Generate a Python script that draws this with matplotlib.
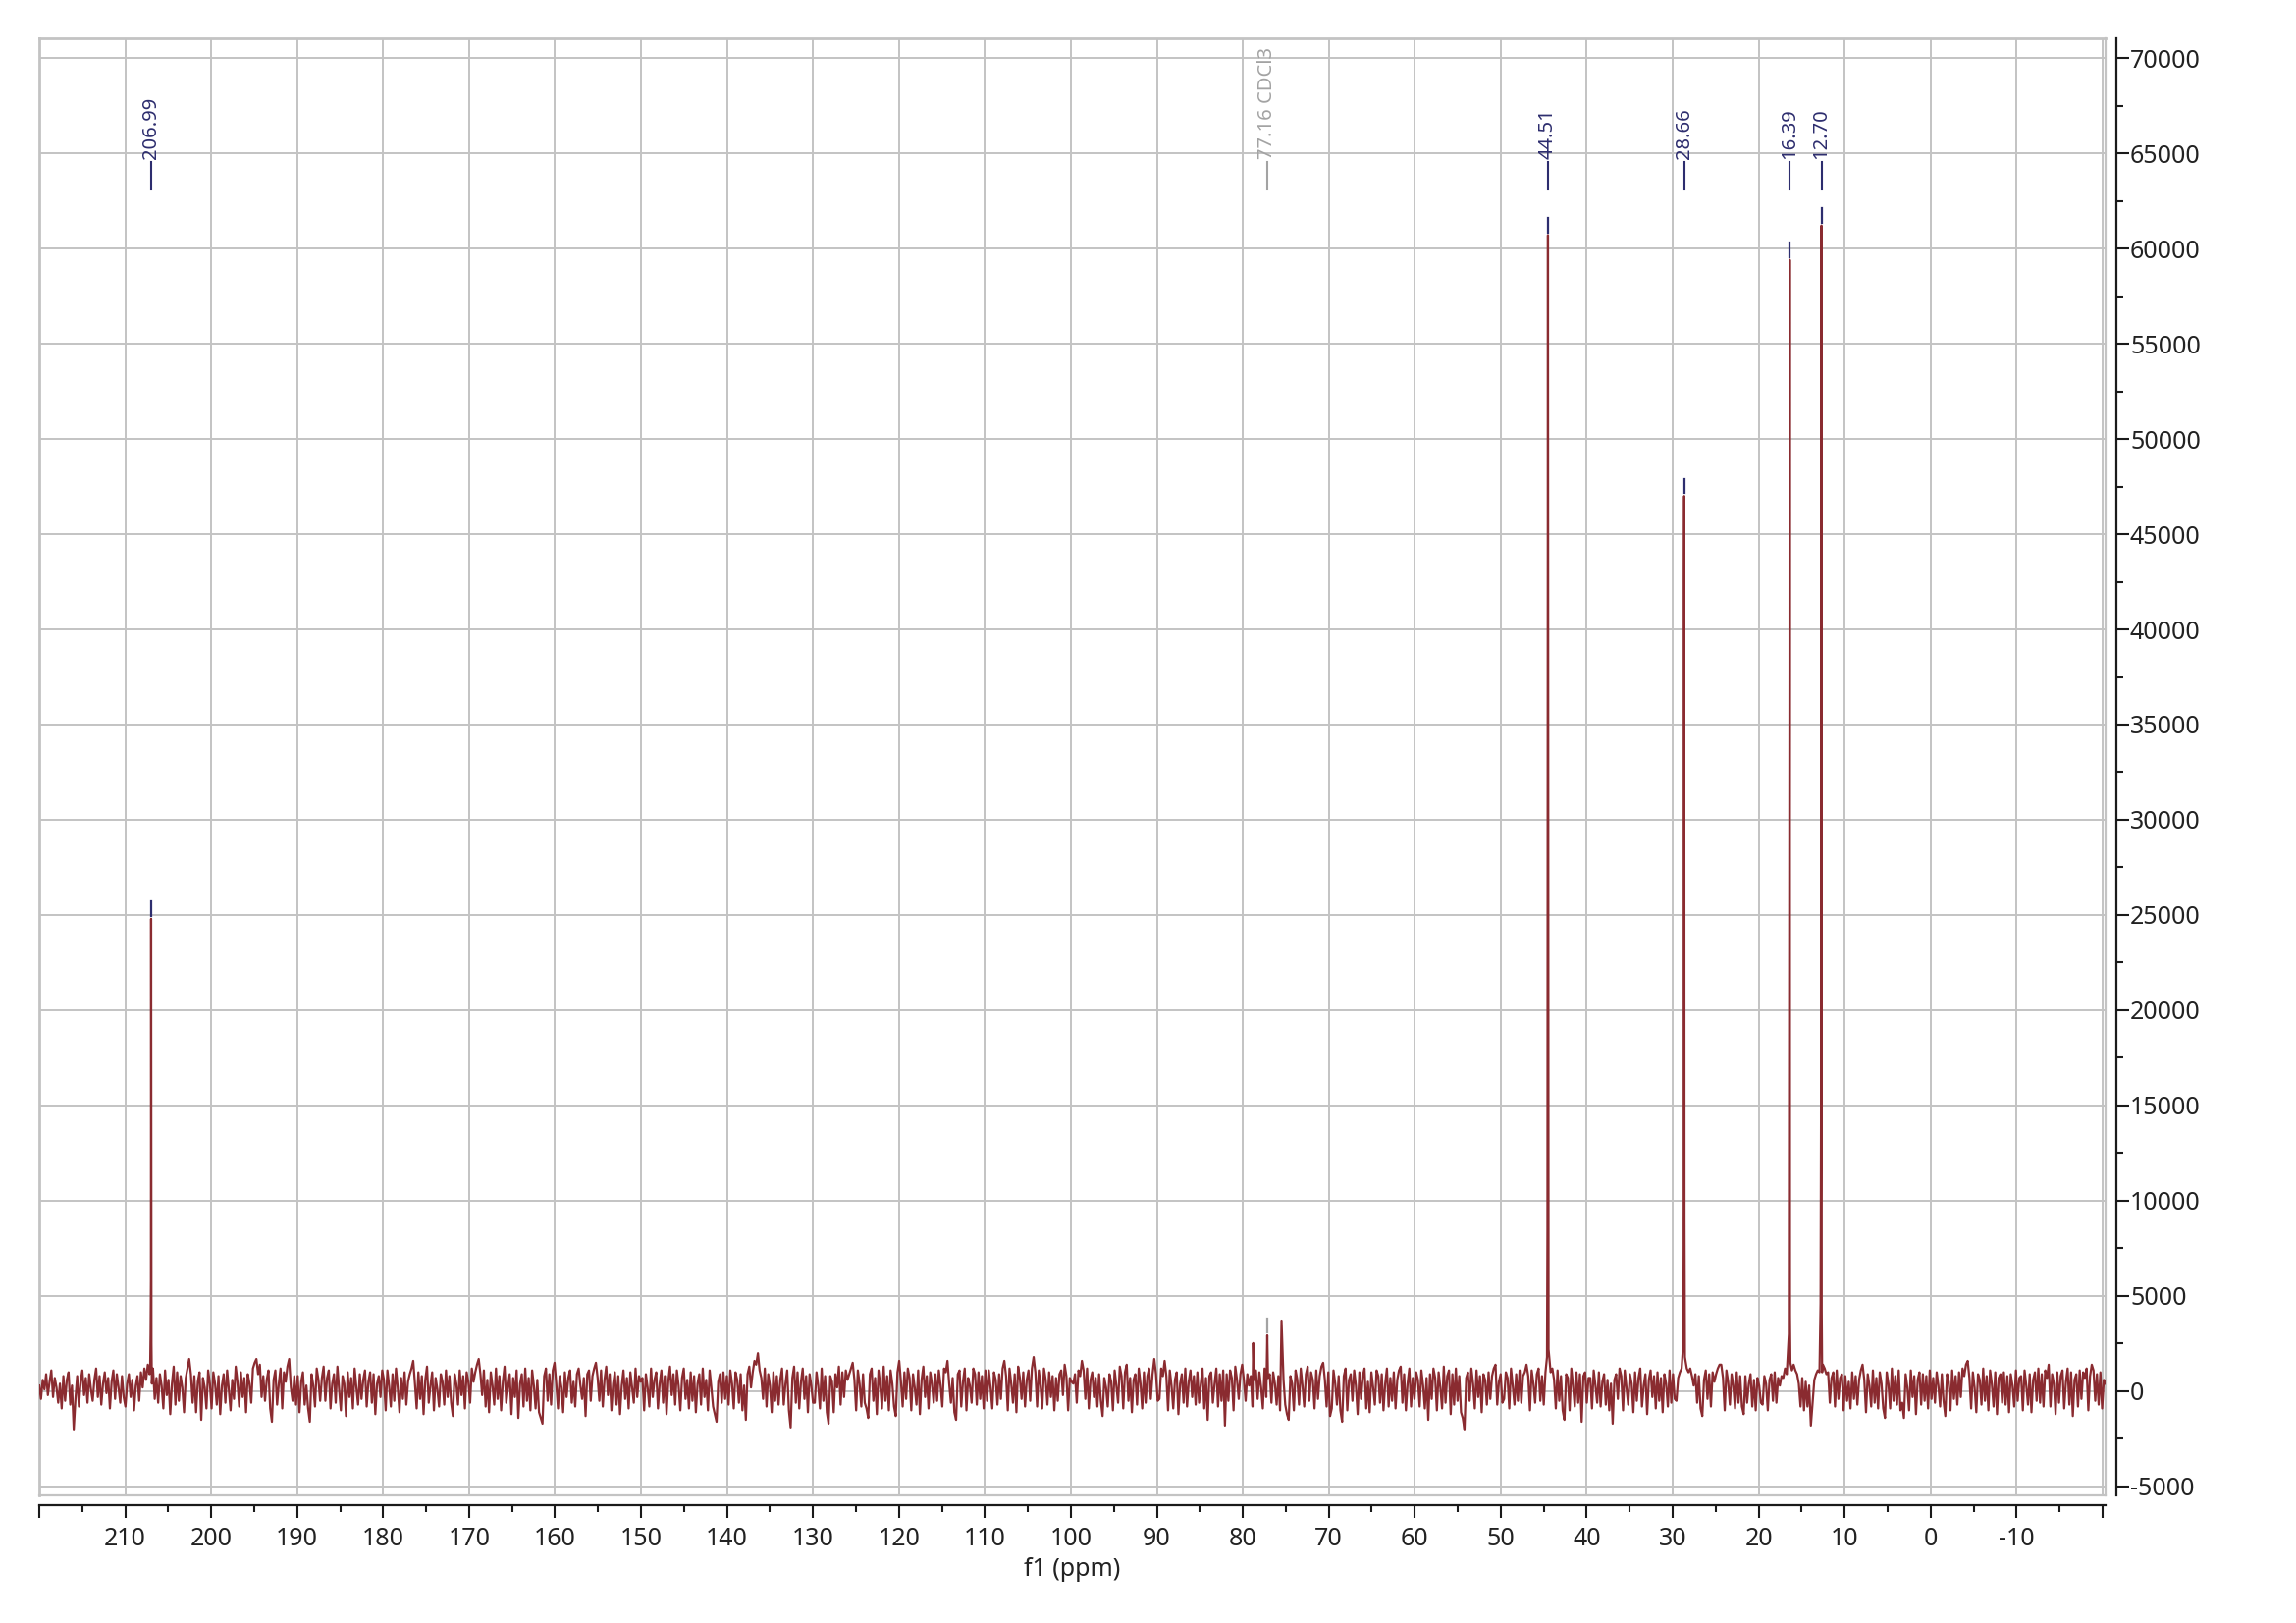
import numpy as np
import matplotlib
matplotlib.use("Agg")
import matplotlib.pyplot as plt
from matplotlib.ticker import FixedLocator, MultipleLocator, FuncFormatter

# ---------------- data ----------------
# baseline noise, in units of 100, from 220 ppm down to -20 ppm (50 values per 10 ppm)
noise_hundreds = [
    3, -4, 6, 1, 9, -2, 5, 11, -3, 7, 2, -6, 4, -9, 8, -5, 6, 10, -7, 3, -20, -4, 8, -8, 5, 11, -2, 7, -6, 9, 1, -5, 6, 12, -3, 8, -7, 4, 10, -1, 7, -9, 5, 11, -4, 9, 2, -6, 8, -3,
    -8, 4, 9, -3, 6, -10, 3, 8, -5, 10, 2, 12, 6, 14, 9, 0, 12, -4, 7, -6, 9, 3, -9, 11, -2, 6, -12, 4, 13, -7, 10, -5, 8, 2, -11, 7, 12, 17, 9, -6, 8, -11, 5, 10, -15, 7, 2, -9, 11, 4,
    -9, 10, 4, -7, 8, -12, 3, 9, -6, 11, 1, -10, 6, -4, 13, 5, -8, 10, -3, 7, -11, 9, 4, -6, 12, 15, 17, 9, 14, -3, 8, -5, 6, 11, -9, -16, 6, 11, -7, 4, 12, -9, 10, 5, 13, 17, 2, -5, 8, -7,
    8, -11, 5, 10, -7, 3, -9, -16, 9, 3, -8, 12, 6, -5, 7, 13, -5, 7, 11, -9, 4, 9, -6, 13, 1, -10, 8, 4, -13, 10, -3, 7, -9, 12, 2, -7, 9, -4, 6, 11, -8, 5, 10, -6, 9, -12, 4, 8, -3, 11,
    6, -10, 11, 3, -8, 9, -5, 12, 2, -11, 7, -4, 10, -7, 5, 9, 12, 16, 4, -9, 10, -4, 8, -12, 6, 13, -6, 3, 10, -10, 7, 1, -8, 9, 5, -7, 11, -3, 8, -6, -13, 9, 4, -7, 11, -2, 8, -9, 10, 5,
    -6, 12, 5, 10, 14, 17, 9, -2, 11, -8, 6, -11, 10, 3, -7, 12, -4, 8, -10, 5, 13, -6, 2, 9, -12, 7, -3, 11, -14, 4, 9, -8, 12, -5, 7, -10, 11, 3, -9, 6, -11, -14, -17, 8, 12, -5, 9, -7, 11, 15,
    4, -9, 8, 2, -11, 10, -3, 7, 11, -6, 5, -8, 9, 12, 3, -4, 7, -13, 9, 11, -5, 8, 12, 15, 7, -5, 11, -8, 6, 13, -2, 9, -10, 4, 10, -7, 8, -12, 3, 11, -4, 7, -9, 10, 2, -6, 12, -3, 8, 5,
    7, -10, 9, 2, -8, 12, -3, 6, 10, -9, 4, 11, -6, 8, -12, 5, 13, -2, 9, -7, 11, 3, -10, 7, 12, -4, 6, -9, 10, -5, 8, -11, 4, 9, -7, 12, -3, 6, -10, 11, 2, -8, -12, -16, 5, 9, -6, 10, -4, 8,
    -7, 11, 4, -9, 10, 6, -6, 9, -10, 3, -15, 9, 13, 2, 10, 16, 14, 20, 11, 7, -4, 12, -8, 9, 3, -11, 10, -5, 8, -7, 6, 12, -7, 4, 11, -10, -19, 7, 13, -6, 10, -9, 5, 12, -4, 8, -11, 9, 3, -6,
    -6, 10, 3, -9, 12, -5, 8, -11, -17, 8, 5, -11, 9, 2, 13, -7, 10, -3, 11, 6, 9, 12, 15, 6, -10, 11, 4, -8, 9, -6, -9, -14, 9, 12, -5, 7, -12, 11, 3, -9, 13, -5, 8, -10, 11, 4, -8, -13, 10, 16,
    5, -8, 10, -4, 12, 7, -10, 9, 2, -7, 11, -12, 6, 13, -3, 8, -9, 10, 4, -6, 9, -5, 11, 3, -8, 12, 10, 16, 4, -6, 7, -11, -15, 9, 11, -8, 5, 12, -10, 7, 3, -6, 12, 9, -7, 10, -4, 8, -9, 11,
    -5, 11, 2, -9, 10, 6, -7, 9, -4, 12, 16, 8, -10, 12, 4, -6, 9, -11, 13, 7, -4, 10, -8, 6, 11, -5, 12, 18, 10, -8, 11, 3, -9, 12, 6, -7, 10, -3, 8, -10, 7, -5, 9, 11, -2, 14, 8, -10, 7, 5,
    4, 9, -6, 11, 8, 16, 11, -4, 12, -9, 6, 10, -3, 7, -8, 9, -5, -13, 7, 2, -8, 9, 5, -10, 11, 3, -6, 13, 8, -9, 10, 14, -5, 7, -11, 6, 9, -7, 12, 4, -9, 10, -6, 8, 12, -4, 9, 17, 9, -5,
    -4, 12, 8, 16, 8, -10, 11, 3, -9, 6, 10, -12, 4, 9, -6, 12, -8, 5, 11, -3, 8, -7, 10, -6, 4, 12, -9, 7, -15, 8, 10, -6, 4, 12, -8, 9, -5, 11, -18, 9, -5, 11, 7, -10, 13, 6, -4, 9, 14, 6,
    -5, 9, 3, 8, -8, 6, 11, -4, 10, 2, -9, 12, -3, 7, 9, -6, 10, 4, -7, 8, -10, 11, 6, -7, -12, -15, 8, 4, -10, 11, 6, -7, 12, 3, -8, 9, 13, -5, 10, 6, -9, 11, -4, 8, 13, 15, 6, -8, 10, -13,
    -9, 11, 4, -7, 8, -10, -16, 8, 12, -10, 6, 9, -5, 11, 3, -12, 10, -4, 8, 12, -9, 5, -11, 10, 2, -7, 11, 8, -6, 9, -10, 4, 12, -8, 7, -5, 10, -9, 6, 11, 13, -6, 9, -10, 4, 12, -8, 7, -4, 10,
    6, -8, 11, 3, -9, 7, -15, 9, -4, 12, 7, -10, 10, 2, -9, 13, -6, 8, 11, -12, 9, -7, 12, -5, 8, -11, -14, -20, 7, 10, -5, 12, 4, -9, 11, -3, 8, -11, 9, 6, -7, 10, -4, 8, 12, 14, -7, 5, 9, -6,
    -4, 10, 7, -9, 12, 3, -7, 9, -5, 11, -6, 8, 10, 14, 8, -10, 11, 4, -6, 9, 12, -5, 8, -7, 10, 6, 9, 10, 12, 6, -9, 11, -5, 8, -10, -15, 9, 7, -10, 12, 3, -8, 10, -6, 9, -16, 8, 10, -6, 7,
    7, -9, 11, 3, -6, 10, -8, 5, 9, -7, 6, -10, 4, -17, 6, 9, -4, 12, 8, -10, 11, 2, -7, 9, 4, -11, 10, -5, 7, 12, -8, 3, 9, -12, 6, 11, -3, 8, -9, 10, -5, 7, -11, 9, 4, -8, 11, -6, 9, -4,
    -5, 7, 10, 12, 14, 16, 12, 10, 12, 8, 3, 9, -6, 8, -9, -13, 6, 11, -4, 9, -8, 10, 5, 9, 12, 14, 14, 7, -10, 11, 5, -7, 9, 3, -9, 10, -6, 8, -8, -12, 8, -6, 4, 9, -8, 6, -10, 7, 3, -6,
    -7, 8, 4, -10, 6, 9, -5, 10, -6, 7, 3, 8, 7, 12, 9, 13, 15, 11, 14, 11, 9, 4, -8, 7, -10, 5, -8, 3, -18, -6, 6, 9, 11, 10, 12, 14, 12, 9, 10, -6, 7, 10, -8, 11, -4, 7, 9, -10, 8, -5,
    5, -9, 10, -4, 8, -7, 6, 11, 14, 6, -11, 9, 3, -8, 11, -6, 7, -9, 10, 4, -9, -14, 10, 4, -9, 12, -5, 8, -7, 11, -10, -6, -14, 9, 2, -10, 11, -3, 8, -12, 6, 10, -7, 9, -5, 8, -9, 11, -4, 7,
    -6, 10, 3, -8, 9, -5, -13, 9, 5, -10, 11, -4, 8, -7, 10, -3, 12, 8, 14, 16, 7, -9, 10, 2, -11, 9, 6, -7, 12, -5, 8, -10, 11, 4, -8, 10, -12, 7, 9, -6, 10, -7, 8, -11, 9, 3, -8, 11, -5, 7,
    8, -10, 11, 3, -7, 9, -11, 6, 10, -5, 12, -6, 9, -8, 11, 7, 14, -8, 9, 4, -12, 10, -6, 8, 11, -9, 5, 12, -7, 10, -13, 6, 9, -8, 11, -4, 10, 7, 12, -10, 8, 14, 11, -5, 9, -7, 10, -9, 6, 4,
]

# sampled points of each resolved line: ppm positions and intensities
peak_ppm = [
    [207.10, 207.05, 207.01, 206.99, 206.95, 206.90],
    [78.80],
    [77.16],
    [75.50],
    [44.62, 44.57, 44.54, 44.51, 44.48, 44.44],
    [28.76, 28.71, 28.68, 28.66, 28.63, 28.58],
    [16.49, 16.44, 16.41, 16.39, 16.36, 16.31],
    [12.80, 12.75, 12.72, 12.70, 12.67, 12.62],
]
peak_int = [
    [1200, 3000, 5800, 24800, 2500, 400],
    [2530],
    [2940],
    [3710],
    [1800, 8500, 38500, 60700, 30400, 2200],
    [2600, 9600, 42700, 47000, 9000, 1800],
    [3000, 22700, 37800, 59400, 4000, 1500],
    [4600, 14000, 57600, 61200, 4200, 1000],
]

# peak-picking labels
label_ppm = [206.99, 77.16, 44.51, 28.66, 16.39, 12.70]
label_text = ["206.99", "77.16 CDCl3", "44.51", "28.66", "16.39", "12.70"]
label_height = [24800, 2940, 60700, 47000, 59400, 61200]
label_is_solvent = [False, True, False, False, False, False]

x_ticks = list(range(220, -21, -10))
x_labelled = list(range(210, -11, -10))

# ---------------- styles ----------------
SPEC = "#8a2b30"
NAVY = "#2d2d6e"
SOLV = "#a3a3a3"
GRID = "#c3c3c3"
TXT = "#222222"
FONT = ["Noto Sans", "DejaVu Sans"]
plt.rcParams["font.family"] = FONT

W, H = 2339, 1653
fig = plt.figure(figsize=(W / 100, H / 100), dpi=100)
ax = fig.add_axes([40 / W, 1 - 1523 / H, 2105 / W, (1523 - 39) / H])

# ---------------- spectrum ----------------
ppm_noise = np.linspace(220.0, -20.35, len(noise_hundreds))
int_noise = np.array(noise_hundreds, dtype=float) * 100.0
keep = np.ones(len(ppm_noise), dtype=bool)
for pp in peak_ppm:
    keep &= (ppm_noise > max(pp) + 0.05) | (ppm_noise < min(pp) - 0.05)
xs = np.concatenate([ppm_noise[keep]] + [np.array(p) for p in peak_ppm])
ys = np.concatenate([int_noise[keep]] + [np.array(v, dtype=float) for v in peak_int])
order = np.argsort(-xs, kind="stable")
ax.plot(xs[order], ys[order], color=SPEC, lw=1.6, zorder=3)

# ---------------- peak labels ----------------
for p, t, h, solv in zip(label_ppm, label_text, label_height, label_is_solvent):
    c = SOLV if solv else NAVY
    ax.plot([p, p], [63100, 64540], color=c, lw=1.5, zorder=4)
    ax.text(p, 64700, t, rotation=90, ha="center", va="bottom",
            fontsize=14.5, color=c, zorder=4)
    ax.plot([p, p], [h + 150, h + 900], color=c, lw=1.6, zorder=4)

# ---------------- axes ----------------
ax.set_xlim(220, -20.35)
ax.set_ylim(-5464, 71031)

ax.xaxis.set_major_locator(FixedLocator(x_ticks))
ax.xaxis.set_minor_locator(MultipleLocator(5))
ax.xaxis.set_major_formatter(FuncFormatter(lambda v, pos: f"{int(round(v))}" if int(round(v)) in x_labelled else ""))

ax.yaxis.tick_right()
ax.yaxis.set_major_locator(MultipleLocator(5000))
ax.yaxis.set_minor_locator(MultipleLocator(2500))
ax.yaxis.set_major_formatter(FuncFormatter(lambda v, pos: f"{int(round(v))}"))

ax.grid(which="major", color=GRID, lw=1.4, zorder=0)
ax.set_axisbelow(True)

for s in ("left", "top"):
    ax.spines[s].set_color(GRID)
    ax.spines[s].set_linewidth(2.0)
ax.spines["right"].set_position(("outward", 8))
ax.spines["bottom"].set_position(("outward", 7.2))
for s in ("right", "bottom"):
    ax.spines[s].set_color("#1a1a1a")
    ax.spines[s].set_linewidth(1.6)
ax.plot([1, 1], [0, 1], transform=ax.transAxes, color=GRID, lw=1.6, clip_on=False, zorder=1)
ax.plot([0, 1], [0, 0], transform=ax.transAxes, color=GRID, lw=1.6, clip_on=False, zorder=1)

ax.tick_params(axis="x", which="major", direction="out", length=9, width=1.5,
               labelsize=18, pad=7, colors="#1a1a1a", labelcolor=TXT)
ax.tick_params(axis="x", which="minor", direction="out", length=5, width=1.5, colors="#1a1a1a")
ax.tick_params(axis="y", which="major", direction="out", length=9, width=1.5,
               labelsize=18, pad=1, colors="#1a1a1a", labelcolor=TXT,
               left=False, right=True, labelleft=False, labelright=True)
ax.tick_params(axis="y", which="minor", direction="out", length=5, width=1.5,
               colors="#1a1a1a", left=False, right=True)

ax.set_xlabel("f1 (ppm)", fontsize=18, color=TXT, labelpad=4)

fig.savefig("out.png", dpi=100, facecolor="white")
